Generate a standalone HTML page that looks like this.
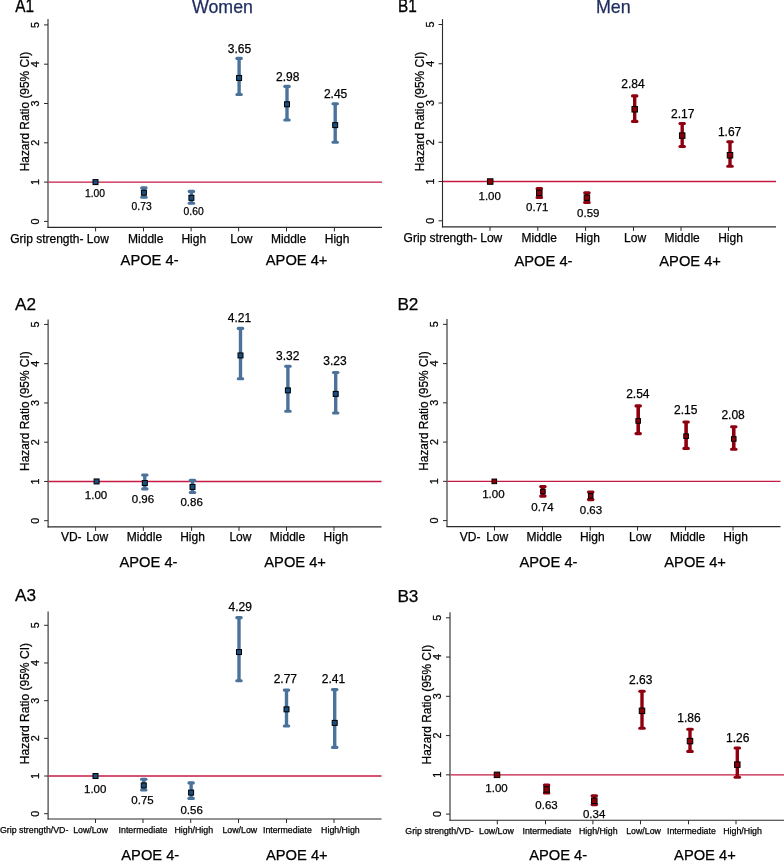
<!DOCTYPE html>
<html><head><meta charset="utf-8"><title>Hazard ratios</title>
<style>
html,body{margin:0;padding:0;background:#fff;}
body{width:784px;height:861px;overflow:hidden;}
svg{display:block;font-family:"Liberation Sans", sans-serif;will-change:transform;}
text{stroke-width:0.25px;}
</style></head>
<body>
<svg width="784" height="861" viewBox="0 0 784 861">
<rect width="784" height="861" fill="#fff"/>
<text transform="translate(15.3,12.3) scale(1,1.15)" font-size="15.4" text-anchor="start" fill="#000" stroke="#000">A1</text>
<line x1="48" y1="19" x2="48" y2="227.9" stroke="#2a2a2a" stroke-width="1.1"/>
<line x1="44" y1="221.4" x2="48" y2="221.4" stroke="#2a2a2a" stroke-width="1"/>
<text transform="translate(39.2,221.4) rotate(-90)" font-size="10.8" text-anchor="middle" fill="#000" stroke="#000">0</text>
<line x1="44" y1="182.1" x2="48" y2="182.1" stroke="#2a2a2a" stroke-width="1"/>
<text transform="translate(39.2,182.1) rotate(-90)" font-size="10.8" text-anchor="middle" fill="#000" stroke="#000">1</text>
<line x1="44" y1="142.8" x2="48" y2="142.8" stroke="#2a2a2a" stroke-width="1"/>
<text transform="translate(39.2,142.8) rotate(-90)" font-size="10.8" text-anchor="middle" fill="#000" stroke="#000">2</text>
<line x1="44" y1="103.5" x2="48" y2="103.5" stroke="#2a2a2a" stroke-width="1"/>
<text transform="translate(39.2,103.5) rotate(-90)" font-size="10.8" text-anchor="middle" fill="#000" stroke="#000">3</text>
<line x1="44" y1="64.2" x2="48" y2="64.2" stroke="#2a2a2a" stroke-width="1"/>
<text transform="translate(39.2,64.2) rotate(-90)" font-size="10.8" text-anchor="middle" fill="#000" stroke="#000">4</text>
<line x1="44" y1="24.9" x2="48" y2="24.9" stroke="#2a2a2a" stroke-width="1"/>
<text transform="translate(39.2,24.9) rotate(-90)" font-size="10.8" text-anchor="middle" fill="#000" stroke="#000">5</text>
<text transform="translate(29,111.5) rotate(-90)" font-size="11.9" text-anchor="middle" fill="#000" stroke="#000">Hazard Ratio (95% CI)</text>
<line x1="47.5" y1="227.4" x2="382" y2="227.4" stroke="#2a2a2a" stroke-width="1.1"/>
<line x1="95.6" y1="227.4" x2="95.6" y2="231.4" stroke="#2a2a2a" stroke-width="1"/>
<line x1="143.5" y1="227.4" x2="143.5" y2="231.4" stroke="#2a2a2a" stroke-width="1"/>
<line x1="191.1" y1="227.4" x2="191.1" y2="231.4" stroke="#2a2a2a" stroke-width="1"/>
<line x1="238.6" y1="227.4" x2="238.6" y2="231.4" stroke="#2a2a2a" stroke-width="1"/>
<line x1="286.5" y1="227.4" x2="286.5" y2="231.4" stroke="#2a2a2a" stroke-width="1"/>
<line x1="334.4" y1="227.4" x2="334.4" y2="231.4" stroke="#2a2a2a" stroke-width="1"/>
<text x="108.9" y="242.6" font-size="12" text-anchor="end" fill="#000" stroke="#000">Grip strength- Low</text>
<text x="145.8" y="242.6" font-size="12" text-anchor="middle" fill="#000" stroke="#000">Middle</text>
<text x="193.8" y="242.6" font-size="12" text-anchor="middle" fill="#000" stroke="#000">High</text>
<text x="241.3" y="242.6" font-size="12" text-anchor="middle" fill="#000" stroke="#000">Low</text>
<text x="288.6" y="242.6" font-size="12" text-anchor="middle" fill="#000" stroke="#000">Middle</text>
<text x="337.1" y="242.6" font-size="12" text-anchor="middle" fill="#000" stroke="#000">High</text>
<text x="120.6" y="265.4" font-size="14.7" text-anchor="start" fill="#000" stroke="#000">APOE 4-</text>
<text x="265.8" y="265.4" font-size="14.7" text-anchor="start" fill="#000" stroke="#000">APOE 4+</text>
<line x1="48.5" y1="182.1" x2="382" y2="182.1" stroke="#c51a44" stroke-width="1.4"/>
<rect x="93" y="179.6" width="5" height="5" fill="#1b4d7e" stroke="#000" stroke-width="1"/>
<text x="95" y="197.41" font-size="10.3" text-anchor="middle" fill="#000" stroke="#000">1.00</text>
<line x1="143.9" y1="187.9" x2="143.9" y2="197.2" stroke="#4a729b" stroke-width="3.4"/>
<line x1="141.7" y1="187.9" x2="146.1" y2="187.9" stroke="#4a729b" stroke-width="3.1" stroke-linecap="round"/>
<line x1="141.7" y1="197.2" x2="146.1" y2="197.2" stroke="#4a729b" stroke-width="3.1" stroke-linecap="round"/>
<rect x="141.4" y="190.21" width="5" height="5" fill="#1b4d7e" stroke="#000" stroke-width="1"/>
<text x="141.6" y="209.81" font-size="10.3" text-anchor="middle" fill="#000" stroke="#000">0.73</text>
<line x1="191.4" y1="191.4" x2="191.4" y2="203.2" stroke="#4a729b" stroke-width="3.4"/>
<line x1="189.2" y1="191.4" x2="193.6" y2="191.4" stroke="#4a729b" stroke-width="3.1" stroke-linecap="round"/>
<line x1="189.2" y1="203.2" x2="193.6" y2="203.2" stroke="#4a729b" stroke-width="3.1" stroke-linecap="round"/>
<rect x="188.9" y="195.32" width="5" height="5" fill="#1b4d7e" stroke="#000" stroke-width="1"/>
<text x="193.6" y="214.81" font-size="10.3" text-anchor="middle" fill="#000" stroke="#000">0.60</text>
<line x1="239.1" y1="58.4" x2="239.1" y2="94.5" stroke="#4a729b" stroke-width="3.4"/>
<line x1="236.9" y1="58.4" x2="241.3" y2="58.4" stroke="#4a729b" stroke-width="3.1" stroke-linecap="round"/>
<line x1="236.9" y1="94.5" x2="241.3" y2="94.5" stroke="#4a729b" stroke-width="3.1" stroke-linecap="round"/>
<rect x="236.6" y="75.46" width="5" height="5" fill="#1b4d7e" stroke="#000" stroke-width="1"/>
<text x="239.5" y="52.6" font-size="12" text-anchor="middle" fill="#000" stroke="#000">3.65</text>
<line x1="287" y1="86.4" x2="287" y2="120" stroke="#4a729b" stroke-width="3.4"/>
<line x1="284.8" y1="86.4" x2="289.2" y2="86.4" stroke="#4a729b" stroke-width="3.1" stroke-linecap="round"/>
<line x1="284.8" y1="120" x2="289.2" y2="120" stroke="#4a729b" stroke-width="3.1" stroke-linecap="round"/>
<rect x="284.5" y="101.79" width="5" height="5" fill="#1b4d7e" stroke="#000" stroke-width="1"/>
<text x="287.7" y="80.5" font-size="12" text-anchor="middle" fill="#000" stroke="#000">2.98</text>
<line x1="335.2" y1="103.75" x2="335.2" y2="142.3" stroke="#4a729b" stroke-width="3.4"/>
<line x1="333" y1="103.75" x2="337.4" y2="103.75" stroke="#4a729b" stroke-width="3.1" stroke-linecap="round"/>
<line x1="333" y1="142.3" x2="337.4" y2="142.3" stroke="#4a729b" stroke-width="3.1" stroke-linecap="round"/>
<rect x="332.7" y="122.62" width="5" height="5" fill="#1b4d7e" stroke="#000" stroke-width="1"/>
<text x="335.6" y="97.9" font-size="12" text-anchor="middle" fill="#000" stroke="#000">2.45</text>
<text transform="translate(397.9,12.3) scale(1,1.15)" font-size="15.4" text-anchor="start" fill="#000" stroke="#000">B1</text>
<line x1="442.5" y1="19.1" x2="442.5" y2="227.4" stroke="#2a2a2a" stroke-width="1.1"/>
<line x1="438.5" y1="220.8" x2="442.5" y2="220.8" stroke="#2a2a2a" stroke-width="1"/>
<text transform="translate(433.6,220.8) rotate(-90)" font-size="10.8" text-anchor="middle" fill="#000" stroke="#000">0</text>
<line x1="438.5" y1="181.54" x2="442.5" y2="181.54" stroke="#2a2a2a" stroke-width="1"/>
<text transform="translate(433.6,181.54) rotate(-90)" font-size="10.8" text-anchor="middle" fill="#000" stroke="#000">1</text>
<line x1="438.5" y1="142.28" x2="442.5" y2="142.28" stroke="#2a2a2a" stroke-width="1"/>
<text transform="translate(433.6,142.28) rotate(-90)" font-size="10.8" text-anchor="middle" fill="#000" stroke="#000">2</text>
<line x1="438.5" y1="103.02" x2="442.5" y2="103.02" stroke="#2a2a2a" stroke-width="1"/>
<text transform="translate(433.6,103.02) rotate(-90)" font-size="10.8" text-anchor="middle" fill="#000" stroke="#000">3</text>
<line x1="438.5" y1="63.76" x2="442.5" y2="63.76" stroke="#2a2a2a" stroke-width="1"/>
<text transform="translate(433.6,63.76) rotate(-90)" font-size="10.8" text-anchor="middle" fill="#000" stroke="#000">4</text>
<line x1="438.5" y1="24.5" x2="442.5" y2="24.5" stroke="#2a2a2a" stroke-width="1"/>
<text transform="translate(433.6,24.5) rotate(-90)" font-size="10.8" text-anchor="middle" fill="#000" stroke="#000">5</text>
<text transform="translate(424,111.5) rotate(-90)" font-size="11.9" text-anchor="middle" fill="#000" stroke="#000">Hazard Ratio (95% CI)</text>
<line x1="442" y1="226.9" x2="776" y2="226.9" stroke="#2a2a2a" stroke-width="1.1"/>
<line x1="490" y1="226.9" x2="490" y2="230.9" stroke="#2a2a2a" stroke-width="1"/>
<line x1="537.8" y1="226.9" x2="537.8" y2="230.9" stroke="#2a2a2a" stroke-width="1"/>
<line x1="585.6" y1="226.9" x2="585.6" y2="230.9" stroke="#2a2a2a" stroke-width="1"/>
<line x1="633.5" y1="226.9" x2="633.5" y2="230.9" stroke="#2a2a2a" stroke-width="1"/>
<line x1="681" y1="226.9" x2="681" y2="230.9" stroke="#2a2a2a" stroke-width="1"/>
<line x1="728.5" y1="226.9" x2="728.5" y2="230.9" stroke="#2a2a2a" stroke-width="1"/>
<text x="502.3" y="241.9" font-size="12" text-anchor="end" fill="#000" stroke="#000">Grip strength- Low</text>
<text x="539.3" y="241.9" font-size="12" text-anchor="middle" fill="#000" stroke="#000">Middle</text>
<text x="587.5" y="241.9" font-size="12" text-anchor="middle" fill="#000" stroke="#000">High</text>
<text x="635.1" y="241.9" font-size="12" text-anchor="middle" fill="#000" stroke="#000">Low</text>
<text x="682.1" y="241.9" font-size="12" text-anchor="middle" fill="#000" stroke="#000">Middle</text>
<text x="730.5" y="241.9" font-size="12" text-anchor="middle" fill="#000" stroke="#000">High</text>
<text x="514.5" y="265.5" font-size="14.7" text-anchor="start" fill="#000" stroke="#000">APOE 4-</text>
<text x="659.3" y="265.5" font-size="14.7" text-anchor="start" fill="#000" stroke="#000">APOE 4+</text>
<line x1="443" y1="181.54" x2="776" y2="181.54" stroke="#c51a44" stroke-width="1.4"/>
<rect x="487.45" y="178.79" width="5.5" height="5.5" fill="#8a0008" stroke="#000" stroke-width="1"/>
<text x="489.7" y="199.85" font-size="11.5" text-anchor="middle" fill="#000" stroke="#000">1.00</text>
<line x1="539.3" y1="188.6" x2="539.3" y2="197.4" stroke="#8e0010" stroke-width="3.4"/>
<line x1="537.1" y1="188.6" x2="541.5" y2="188.6" stroke="#8e0010" stroke-width="3.1" stroke-linecap="round"/>
<line x1="537.1" y1="197.4" x2="541.5" y2="197.4" stroke="#8e0010" stroke-width="3.1" stroke-linecap="round"/>
<rect x="536.55" y="190.18" width="5.5" height="5.5" fill="#8a0008" stroke="#000" stroke-width="1"/>
<text x="537.3" y="210.75" font-size="11.5" text-anchor="middle" fill="#000" stroke="#000">0.71</text>
<line x1="586.9" y1="192.75" x2="586.9" y2="202.4" stroke="#8e0010" stroke-width="3.4"/>
<line x1="584.7" y1="192.75" x2="589.1" y2="192.75" stroke="#8e0010" stroke-width="3.1" stroke-linecap="round"/>
<line x1="584.7" y1="202.4" x2="589.1" y2="202.4" stroke="#8e0010" stroke-width="3.1" stroke-linecap="round"/>
<rect x="584.15" y="194.89" width="5.5" height="5.5" fill="#8a0008" stroke="#000" stroke-width="1"/>
<text x="588.25" y="216.65" font-size="11.5" text-anchor="middle" fill="#000" stroke="#000">0.59</text>
<line x1="634.7" y1="95.9" x2="634.7" y2="121.4" stroke="#8e0010" stroke-width="3.4"/>
<line x1="632.5" y1="95.9" x2="636.9" y2="95.9" stroke="#8e0010" stroke-width="3.1" stroke-linecap="round"/>
<line x1="632.5" y1="121.4" x2="636.9" y2="121.4" stroke="#8e0010" stroke-width="3.1" stroke-linecap="round"/>
<rect x="631.95" y="106.55" width="5.5" height="5.5" fill="#8a0008" stroke="#000" stroke-width="1"/>
<text x="633" y="88.3" font-size="12" text-anchor="middle" fill="#000" stroke="#000">2.84</text>
<line x1="682.2" y1="123.5" x2="682.2" y2="146.5" stroke="#8e0010" stroke-width="3.4"/>
<line x1="680" y1="123.5" x2="684.4" y2="123.5" stroke="#8e0010" stroke-width="3.1" stroke-linecap="round"/>
<line x1="680" y1="146.5" x2="684.4" y2="146.5" stroke="#8e0010" stroke-width="3.1" stroke-linecap="round"/>
<rect x="679.45" y="132.86" width="5.5" height="5.5" fill="#8a0008" stroke="#000" stroke-width="1"/>
<text x="682.7" y="117.9" font-size="12" text-anchor="middle" fill="#000" stroke="#000">2.17</text>
<line x1="730" y1="141.8" x2="730" y2="166.3" stroke="#8e0010" stroke-width="3.4"/>
<line x1="727.8" y1="141.8" x2="732.2" y2="141.8" stroke="#8e0010" stroke-width="3.1" stroke-linecap="round"/>
<line x1="727.8" y1="166.3" x2="732.2" y2="166.3" stroke="#8e0010" stroke-width="3.1" stroke-linecap="round"/>
<rect x="727.25" y="152.49" width="5.5" height="5.5" fill="#8a0008" stroke="#000" stroke-width="1"/>
<text x="729.6" y="135.6" font-size="12" text-anchor="middle" fill="#000" stroke="#000">1.67</text>
<text transform="translate(15,310.1) scale(1,1)" font-size="17.2" text-anchor="start" fill="#000" stroke="#000">A2</text>
<line x1="48.1" y1="319.5" x2="48.1" y2="527.4" stroke="#2a2a2a" stroke-width="1.1"/>
<line x1="44.1" y1="520.7" x2="48.1" y2="520.7" stroke="#2a2a2a" stroke-width="1"/>
<text transform="translate(39.4,520.7) rotate(-90)" font-size="10.8" text-anchor="middle" fill="#000" stroke="#000">0</text>
<line x1="44.1" y1="481.45" x2="48.1" y2="481.45" stroke="#2a2a2a" stroke-width="1"/>
<text transform="translate(39.4,481.45) rotate(-90)" font-size="10.8" text-anchor="middle" fill="#000" stroke="#000">1</text>
<line x1="44.1" y1="442.2" x2="48.1" y2="442.2" stroke="#2a2a2a" stroke-width="1"/>
<text transform="translate(39.4,442.2) rotate(-90)" font-size="10.8" text-anchor="middle" fill="#000" stroke="#000">2</text>
<line x1="44.1" y1="402.95" x2="48.1" y2="402.95" stroke="#2a2a2a" stroke-width="1"/>
<text transform="translate(39.4,402.95) rotate(-90)" font-size="10.8" text-anchor="middle" fill="#000" stroke="#000">3</text>
<line x1="44.1" y1="363.7" x2="48.1" y2="363.7" stroke="#2a2a2a" stroke-width="1"/>
<text transform="translate(39.4,363.7) rotate(-90)" font-size="10.8" text-anchor="middle" fill="#000" stroke="#000">4</text>
<line x1="44.1" y1="324.45" x2="48.1" y2="324.45" stroke="#2a2a2a" stroke-width="1"/>
<text transform="translate(39.4,324.45) rotate(-90)" font-size="10.8" text-anchor="middle" fill="#000" stroke="#000">5</text>
<text transform="translate(29.2,411.1) rotate(-90)" font-size="11.9" text-anchor="middle" fill="#000" stroke="#000">Hazard Ratio (95% CI)</text>
<line x1="47.6" y1="526.9" x2="381.5" y2="526.9" stroke="#2a2a2a" stroke-width="1.1"/>
<line x1="95.6" y1="526.9" x2="95.6" y2="530.9" stroke="#2a2a2a" stroke-width="1"/>
<line x1="143.4" y1="526.9" x2="143.4" y2="530.9" stroke="#2a2a2a" stroke-width="1"/>
<line x1="191.6" y1="526.9" x2="191.6" y2="530.9" stroke="#2a2a2a" stroke-width="1"/>
<line x1="239" y1="526.9" x2="239" y2="530.9" stroke="#2a2a2a" stroke-width="1"/>
<line x1="286.5" y1="526.9" x2="286.5" y2="530.9" stroke="#2a2a2a" stroke-width="1"/>
<line x1="334" y1="526.9" x2="334" y2="530.9" stroke="#2a2a2a" stroke-width="1"/>
<text x="81.6" y="541" font-size="12" text-anchor="end" fill="#000" stroke="#000">VD-</text>
<text x="97.2" y="541" font-size="12" text-anchor="middle" fill="#000" stroke="#000">Low</text>
<text x="144.4" y="541" font-size="12" text-anchor="middle" fill="#000" stroke="#000">Middle</text>
<text x="192.5" y="541" font-size="12" text-anchor="middle" fill="#000" stroke="#000">High</text>
<text x="240.4" y="541" font-size="12" text-anchor="middle" fill="#000" stroke="#000">Low</text>
<text x="287.5" y="541" font-size="12" text-anchor="middle" fill="#000" stroke="#000">Middle</text>
<text x="335.9" y="541" font-size="12" text-anchor="middle" fill="#000" stroke="#000">High</text>
<text x="119.5" y="566.6" font-size="14.7" text-anchor="start" fill="#000" stroke="#000">APOE 4-</text>
<text x="264.3" y="566.6" font-size="14.7" text-anchor="start" fill="#000" stroke="#000">APOE 4+</text>
<line x1="48.6" y1="481.45" x2="381.5" y2="481.45" stroke="#c51a44" stroke-width="1.4"/>
<rect x="94.1" y="478.95" width="5" height="5" fill="#1b4d7e" stroke="#000" stroke-width="1"/>
<text x="96.05" y="499.15" font-size="11.5" text-anchor="middle" fill="#000" stroke="#000">1.00</text>
<line x1="144.8" y1="475" x2="144.8" y2="488.9" stroke="#4a729b" stroke-width="3.4"/>
<line x1="142.6" y1="475" x2="147" y2="475" stroke="#4a729b" stroke-width="3.1" stroke-linecap="round"/>
<line x1="142.6" y1="488.9" x2="147" y2="488.9" stroke="#4a729b" stroke-width="3.1" stroke-linecap="round"/>
<rect x="142.3" y="480.52" width="5" height="5" fill="#1b4d7e" stroke="#000" stroke-width="1"/>
<text x="142.95" y="503.05" font-size="11.5" text-anchor="middle" fill="#000" stroke="#000">0.96</text>
<line x1="192.5" y1="480.4" x2="192.5" y2="492.5" stroke="#4a729b" stroke-width="3.4"/>
<line x1="190.3" y1="480.4" x2="194.7" y2="480.4" stroke="#4a729b" stroke-width="3.1" stroke-linecap="round"/>
<line x1="190.3" y1="492.5" x2="194.7" y2="492.5" stroke="#4a729b" stroke-width="3.1" stroke-linecap="round"/>
<rect x="190" y="484.45" width="5" height="5" fill="#1b4d7e" stroke="#000" stroke-width="1"/>
<text x="191.65" y="506.35" font-size="11.5" text-anchor="middle" fill="#000" stroke="#000">0.86</text>
<line x1="240.5" y1="328.4" x2="240.5" y2="378.75" stroke="#4a729b" stroke-width="3.4"/>
<line x1="238.3" y1="328.4" x2="242.7" y2="328.4" stroke="#4a729b" stroke-width="3.1" stroke-linecap="round"/>
<line x1="238.3" y1="378.75" x2="242.7" y2="378.75" stroke="#4a729b" stroke-width="3.1" stroke-linecap="round"/>
<rect x="238" y="352.96" width="5" height="5" fill="#1b4d7e" stroke="#000" stroke-width="1"/>
<text x="239.5" y="321.5" font-size="12" text-anchor="middle" fill="#000" stroke="#000">4.21</text>
<line x1="287.9" y1="366.25" x2="287.9" y2="411.25" stroke="#4a729b" stroke-width="3.4"/>
<line x1="285.7" y1="366.25" x2="290.1" y2="366.25" stroke="#4a729b" stroke-width="3.1" stroke-linecap="round"/>
<line x1="285.7" y1="411.25" x2="290.1" y2="411.25" stroke="#4a729b" stroke-width="3.1" stroke-linecap="round"/>
<rect x="285.4" y="387.89" width="5" height="5" fill="#1b4d7e" stroke="#000" stroke-width="1"/>
<text x="287.7" y="359.5" font-size="12" text-anchor="middle" fill="#000" stroke="#000">3.32</text>
<line x1="335.7" y1="372.5" x2="335.7" y2="413" stroke="#4a729b" stroke-width="3.4"/>
<line x1="333.5" y1="372.5" x2="337.9" y2="372.5" stroke="#4a729b" stroke-width="3.1" stroke-linecap="round"/>
<line x1="333.5" y1="413" x2="337.9" y2="413" stroke="#4a729b" stroke-width="3.1" stroke-linecap="round"/>
<rect x="333.2" y="391.42" width="5" height="5" fill="#1b4d7e" stroke="#000" stroke-width="1"/>
<text x="335" y="365.3" font-size="12" text-anchor="middle" fill="#000" stroke="#000">3.23</text>
<text transform="translate(397.4,310.4) scale(1,1)" font-size="17.2" text-anchor="start" fill="#000" stroke="#000">B2</text>
<line x1="447" y1="319" x2="447" y2="527.1" stroke="#2a2a2a" stroke-width="1.1"/>
<line x1="443" y1="520.6" x2="447" y2="520.6" stroke="#2a2a2a" stroke-width="1"/>
<text transform="translate(438,520.6) rotate(-90)" font-size="10.8" text-anchor="middle" fill="#000" stroke="#000">0</text>
<line x1="443" y1="481.35" x2="447" y2="481.35" stroke="#2a2a2a" stroke-width="1"/>
<text transform="translate(438,481.35) rotate(-90)" font-size="10.8" text-anchor="middle" fill="#000" stroke="#000">1</text>
<line x1="443" y1="442.1" x2="447" y2="442.1" stroke="#2a2a2a" stroke-width="1"/>
<text transform="translate(438,442.1) rotate(-90)" font-size="10.8" text-anchor="middle" fill="#000" stroke="#000">2</text>
<line x1="443" y1="402.85" x2="447" y2="402.85" stroke="#2a2a2a" stroke-width="1"/>
<text transform="translate(438,402.85) rotate(-90)" font-size="10.8" text-anchor="middle" fill="#000" stroke="#000">3</text>
<line x1="443" y1="363.6" x2="447" y2="363.6" stroke="#2a2a2a" stroke-width="1"/>
<text transform="translate(438,363.6) rotate(-90)" font-size="10.8" text-anchor="middle" fill="#000" stroke="#000">4</text>
<line x1="443" y1="324.35" x2="447" y2="324.35" stroke="#2a2a2a" stroke-width="1"/>
<text transform="translate(438,324.35) rotate(-90)" font-size="10.8" text-anchor="middle" fill="#000" stroke="#000">5</text>
<text transform="translate(428.2,411) rotate(-90)" font-size="11.9" text-anchor="middle" fill="#000" stroke="#000">Hazard Ratio (95% CI)</text>
<line x1="446.5" y1="526.6" x2="780.5" y2="526.6" stroke="#2a2a2a" stroke-width="1.1"/>
<line x1="494.5" y1="526.6" x2="494.5" y2="530.6" stroke="#2a2a2a" stroke-width="1"/>
<line x1="542.5" y1="526.6" x2="542.5" y2="530.6" stroke="#2a2a2a" stroke-width="1"/>
<line x1="590.3" y1="526.6" x2="590.3" y2="530.6" stroke="#2a2a2a" stroke-width="1"/>
<line x1="637.5" y1="526.6" x2="637.5" y2="530.6" stroke="#2a2a2a" stroke-width="1"/>
<line x1="685.5" y1="526.6" x2="685.5" y2="530.6" stroke="#2a2a2a" stroke-width="1"/>
<line x1="733" y1="526.6" x2="733" y2="530.6" stroke="#2a2a2a" stroke-width="1"/>
<text x="480.4" y="541" font-size="12" text-anchor="end" fill="#000" stroke="#000">VD-</text>
<text x="497.2" y="541" font-size="12" text-anchor="middle" fill="#000" stroke="#000">Low</text>
<text x="544.3" y="541" font-size="12" text-anchor="middle" fill="#000" stroke="#000">Middle</text>
<text x="592.3" y="541" font-size="12" text-anchor="middle" fill="#000" stroke="#000">High</text>
<text x="640.1" y="541" font-size="12" text-anchor="middle" fill="#000" stroke="#000">Low</text>
<text x="687.6" y="541" font-size="12" text-anchor="middle" fill="#000" stroke="#000">Middle</text>
<text x="735.6" y="541" font-size="12" text-anchor="middle" fill="#000" stroke="#000">High</text>
<text x="519.5" y="566.6" font-size="14.7" text-anchor="start" fill="#000" stroke="#000">APOE 4-</text>
<text x="664.3" y="566.6" font-size="14.7" text-anchor="start" fill="#000" stroke="#000">APOE 4+</text>
<line x1="447.5" y1="481.35" x2="780.5" y2="481.35" stroke="#c51a44" stroke-width="1.4"/>
<rect x="492" y="479.05" width="4.6" height="4.6" fill="#8a0008" stroke="#000" stroke-width="1"/>
<text x="493.4" y="498.45" font-size="11.5" text-anchor="middle" fill="#000" stroke="#000">1.00</text>
<line x1="542.9" y1="486.6" x2="542.9" y2="496.1" stroke="#8e0010" stroke-width="3.6"/>
<line x1="540.7" y1="486.6" x2="545.1" y2="486.6" stroke="#8e0010" stroke-width="3.1" stroke-linecap="round"/>
<line x1="540.7" y1="496.1" x2="545.1" y2="496.1" stroke="#8e0010" stroke-width="3.1" stroke-linecap="round"/>
<rect x="540.6" y="489.25" width="4.6" height="4.6" fill="#8a0008" stroke="#000" stroke-width="1"/>
<text x="542.5" y="510.75" font-size="11.5" text-anchor="middle" fill="#000" stroke="#000">0.74</text>
<line x1="590.7" y1="492" x2="590.7" y2="499.6" stroke="#8e0010" stroke-width="3.6"/>
<line x1="588.5" y1="492" x2="592.9" y2="492" stroke="#8e0010" stroke-width="3.1" stroke-linecap="round"/>
<line x1="588.5" y1="499.6" x2="592.9" y2="499.6" stroke="#8e0010" stroke-width="3.1" stroke-linecap="round"/>
<rect x="588.4" y="493.57" width="4.6" height="4.6" fill="#8a0008" stroke="#000" stroke-width="1"/>
<text x="590.95" y="513.85" font-size="11.5" text-anchor="middle" fill="#000" stroke="#000">0.63</text>
<line x1="638.2" y1="405.9" x2="638.2" y2="433.6" stroke="#8e0010" stroke-width="3.6"/>
<line x1="636" y1="405.9" x2="640.4" y2="405.9" stroke="#8e0010" stroke-width="3.1" stroke-linecap="round"/>
<line x1="636" y1="433.6" x2="640.4" y2="433.6" stroke="#8e0010" stroke-width="3.1" stroke-linecap="round"/>
<rect x="635.9" y="418.61" width="4.6" height="4.6" fill="#8a0008" stroke="#000" stroke-width="1"/>
<text x="637.85" y="398.1" font-size="12" text-anchor="middle" fill="#000" stroke="#000">2.54</text>
<line x1="686.1" y1="422" x2="686.1" y2="448.4" stroke="#8e0010" stroke-width="3.6"/>
<line x1="683.9" y1="422" x2="688.3" y2="422" stroke="#8e0010" stroke-width="3.1" stroke-linecap="round"/>
<line x1="683.9" y1="448.4" x2="688.3" y2="448.4" stroke="#8e0010" stroke-width="3.1" stroke-linecap="round"/>
<rect x="683.8" y="433.91" width="4.6" height="4.6" fill="#8a0008" stroke="#000" stroke-width="1"/>
<text x="685.65" y="414.2" font-size="12" text-anchor="middle" fill="#000" stroke="#000">2.15</text>
<line x1="733.75" y1="426.8" x2="733.75" y2="449.3" stroke="#8e0010" stroke-width="3.6"/>
<line x1="731.55" y1="426.8" x2="735.95" y2="426.8" stroke="#8e0010" stroke-width="3.1" stroke-linecap="round"/>
<line x1="731.55" y1="449.3" x2="735.95" y2="449.3" stroke="#8e0010" stroke-width="3.1" stroke-linecap="round"/>
<rect x="731.45" y="436.66" width="4.6" height="4.6" fill="#8a0008" stroke="#000" stroke-width="1"/>
<text x="733.1" y="419.2" font-size="12" text-anchor="middle" fill="#000" stroke="#000">2.08</text>
<text transform="translate(15,600.8) scale(1,1)" font-size="17.2" text-anchor="start" fill="#000" stroke="#000">A3</text>
<line x1="48.1" y1="611.5" x2="48.1" y2="819.5" stroke="#2a2a2a" stroke-width="1.1"/>
<line x1="44.1" y1="813.7" x2="48.1" y2="813.7" stroke="#2a2a2a" stroke-width="1"/>
<text transform="translate(39.4,813.7) rotate(-90)" font-size="10.8" text-anchor="middle" fill="#000" stroke="#000">0</text>
<line x1="44.1" y1="776.02" x2="48.1" y2="776.02" stroke="#2a2a2a" stroke-width="1"/>
<text transform="translate(39.4,776.02) rotate(-90)" font-size="10.8" text-anchor="middle" fill="#000" stroke="#000">1</text>
<line x1="44.1" y1="738.34" x2="48.1" y2="738.34" stroke="#2a2a2a" stroke-width="1"/>
<text transform="translate(39.4,738.34) rotate(-90)" font-size="10.8" text-anchor="middle" fill="#000" stroke="#000">2</text>
<line x1="44.1" y1="700.66" x2="48.1" y2="700.66" stroke="#2a2a2a" stroke-width="1"/>
<text transform="translate(39.4,700.66) rotate(-90)" font-size="10.8" text-anchor="middle" fill="#000" stroke="#000">3</text>
<line x1="44.1" y1="662.98" x2="48.1" y2="662.98" stroke="#2a2a2a" stroke-width="1"/>
<text transform="translate(39.4,662.98) rotate(-90)" font-size="10.8" text-anchor="middle" fill="#000" stroke="#000">4</text>
<line x1="44.1" y1="625.3" x2="48.1" y2="625.3" stroke="#2a2a2a" stroke-width="1"/>
<text transform="translate(39.4,625.3) rotate(-90)" font-size="10.8" text-anchor="middle" fill="#000" stroke="#000">5</text>
<text transform="translate(29.4,703.6) rotate(-90)" font-size="12.05" text-anchor="middle" fill="#000" stroke="#000">Hazard Ratio (95% CI)</text>
<line x1="47.6" y1="819" x2="381.5" y2="819" stroke="#2a2a2a" stroke-width="1.1"/>
<line x1="95.5" y1="819" x2="95.5" y2="823" stroke="#2a2a2a" stroke-width="1"/>
<line x1="143" y1="819" x2="143" y2="823" stroke="#2a2a2a" stroke-width="1"/>
<line x1="190.7" y1="819" x2="190.7" y2="823" stroke="#2a2a2a" stroke-width="1"/>
<line x1="238.5" y1="819" x2="238.5" y2="823" stroke="#2a2a2a" stroke-width="1"/>
<line x1="286.5" y1="819" x2="286.5" y2="823" stroke="#2a2a2a" stroke-width="1"/>
<line x1="334" y1="819" x2="334" y2="823" stroke="#2a2a2a" stroke-width="1"/>
<text x="68.4" y="833" font-size="8.8" text-anchor="end" fill="#000" stroke="#000">Grip strength/VD-</text>
<text x="90.5" y="833" font-size="8.8" text-anchor="middle" fill="#000" stroke="#000">Low/Low</text>
<text x="143" y="833" font-size="8.8" text-anchor="middle" fill="#000" stroke="#000">Intermediate</text>
<text x="193.8" y="833" font-size="8.8" text-anchor="middle" fill="#000" stroke="#000">High/High</text>
<text x="239.8" y="833" font-size="8.8" text-anchor="middle" fill="#000" stroke="#000">Low/Low</text>
<text x="287.4" y="833" font-size="8.8" text-anchor="middle" fill="#000" stroke="#000">Intermediate</text>
<text x="340.4" y="833" font-size="8.8" text-anchor="middle" fill="#000" stroke="#000">High/High</text>
<text x="121.3" y="859.6" font-size="14.7" text-anchor="start" fill="#000" stroke="#000">APOE 4-</text>
<text x="266" y="859.6" font-size="14.7" text-anchor="start" fill="#000" stroke="#000">APOE 4+</text>
<line x1="48.6" y1="776.02" x2="381.5" y2="776.02" stroke="#c51a44" stroke-width="1.4"/>
<rect x="93" y="773.52" width="5" height="5" fill="#1b4d7e" stroke="#000" stroke-width="1"/>
<text x="95.2" y="793.45" font-size="11.5" text-anchor="middle" fill="#000" stroke="#000">1.00</text>
<line x1="143.75" y1="779.3" x2="143.75" y2="790" stroke="#4a729b" stroke-width="3.4"/>
<line x1="141.55" y1="779.3" x2="145.95" y2="779.3" stroke="#4a729b" stroke-width="3.1" stroke-linecap="round"/>
<line x1="141.55" y1="790" x2="145.95" y2="790" stroke="#4a729b" stroke-width="3.1" stroke-linecap="round"/>
<rect x="141.25" y="782.94" width="5" height="5" fill="#1b4d7e" stroke="#000" stroke-width="1"/>
<text x="142.5" y="804.15" font-size="11.5" text-anchor="middle" fill="#000" stroke="#000">0.75</text>
<line x1="191.1" y1="782.9" x2="191.1" y2="798.4" stroke="#4a729b" stroke-width="3.4"/>
<line x1="188.9" y1="782.9" x2="193.3" y2="782.9" stroke="#4a729b" stroke-width="3.1" stroke-linecap="round"/>
<line x1="188.9" y1="798.4" x2="193.3" y2="798.4" stroke="#4a729b" stroke-width="3.1" stroke-linecap="round"/>
<rect x="188.6" y="790.1" width="5" height="5" fill="#1b4d7e" stroke="#000" stroke-width="1"/>
<text x="191.65" y="813.65" font-size="11.5" text-anchor="middle" fill="#000" stroke="#000">0.56</text>
<line x1="239" y1="617.65" x2="239" y2="680.8" stroke="#4a729b" stroke-width="3.4"/>
<line x1="236.8" y1="617.65" x2="241.2" y2="617.65" stroke="#4a729b" stroke-width="3.1" stroke-linecap="round"/>
<line x1="236.8" y1="680.8" x2="241.2" y2="680.8" stroke="#4a729b" stroke-width="3.1" stroke-linecap="round"/>
<rect x="236.5" y="649.55" width="5" height="5" fill="#1b4d7e" stroke="#000" stroke-width="1"/>
<text x="240.25" y="611.1" font-size="12" text-anchor="middle" fill="#000" stroke="#000">4.29</text>
<line x1="286.5" y1="690.1" x2="286.5" y2="726" stroke="#4a729b" stroke-width="3.4"/>
<line x1="284.3" y1="690.1" x2="288.7" y2="690.1" stroke="#4a729b" stroke-width="3.1" stroke-linecap="round"/>
<line x1="284.3" y1="726" x2="288.7" y2="726" stroke="#4a729b" stroke-width="3.1" stroke-linecap="round"/>
<rect x="284" y="706.83" width="5" height="5" fill="#1b4d7e" stroke="#000" stroke-width="1"/>
<text x="285.35" y="683" font-size="12" text-anchor="middle" fill="#000" stroke="#000">2.77</text>
<line x1="334.7" y1="689.6" x2="334.7" y2="747.4" stroke="#4a729b" stroke-width="3.4"/>
<line x1="332.5" y1="689.6" x2="336.9" y2="689.6" stroke="#4a729b" stroke-width="3.1" stroke-linecap="round"/>
<line x1="332.5" y1="747.4" x2="336.9" y2="747.4" stroke="#4a729b" stroke-width="3.1" stroke-linecap="round"/>
<rect x="332.2" y="720.39" width="5" height="5" fill="#1b4d7e" stroke="#000" stroke-width="1"/>
<text x="333.45" y="683" font-size="12" text-anchor="middle" fill="#000" stroke="#000">2.41</text>
<text transform="translate(397.4,601.5) scale(1,1)" font-size="17.2" text-anchor="start" fill="#000" stroke="#000">B3</text>
<line x1="450" y1="612.3" x2="450" y2="820.8" stroke="#2a2a2a" stroke-width="1.1"/>
<line x1="446" y1="814.1" x2="450" y2="814.1" stroke="#2a2a2a" stroke-width="1"/>
<text transform="translate(441,814.1) rotate(-90)" font-size="10.8" text-anchor="middle" fill="#000" stroke="#000">0</text>
<line x1="446" y1="774.84" x2="450" y2="774.84" stroke="#2a2a2a" stroke-width="1"/>
<text transform="translate(441,774.84) rotate(-90)" font-size="10.8" text-anchor="middle" fill="#000" stroke="#000">1</text>
<line x1="446" y1="735.58" x2="450" y2="735.58" stroke="#2a2a2a" stroke-width="1"/>
<text transform="translate(441,735.58) rotate(-90)" font-size="10.8" text-anchor="middle" fill="#000" stroke="#000">2</text>
<line x1="446" y1="696.32" x2="450" y2="696.32" stroke="#2a2a2a" stroke-width="1"/>
<text transform="translate(441,696.32) rotate(-90)" font-size="10.8" text-anchor="middle" fill="#000" stroke="#000">3</text>
<line x1="446" y1="657.06" x2="450" y2="657.06" stroke="#2a2a2a" stroke-width="1"/>
<text transform="translate(441,657.06) rotate(-90)" font-size="10.8" text-anchor="middle" fill="#000" stroke="#000">4</text>
<line x1="446" y1="617.8" x2="450" y2="617.8" stroke="#2a2a2a" stroke-width="1"/>
<text transform="translate(441,617.8) rotate(-90)" font-size="10.8" text-anchor="middle" fill="#000" stroke="#000">5</text>
<text transform="translate(431.3,704.6) rotate(-90)" font-size="11.9" text-anchor="middle" fill="#000" stroke="#000">Hazard Ratio (95% CI)</text>
<line x1="449.5" y1="820.3" x2="784" y2="820.3" stroke="#2a2a2a" stroke-width="1.1"/>
<line x1="497.3" y1="820.3" x2="497.3" y2="824.3" stroke="#2a2a2a" stroke-width="1"/>
<line x1="545.5" y1="820.3" x2="545.5" y2="824.3" stroke="#2a2a2a" stroke-width="1"/>
<line x1="592.9" y1="820.3" x2="592.9" y2="824.3" stroke="#2a2a2a" stroke-width="1"/>
<line x1="640.5" y1="820.3" x2="640.5" y2="824.3" stroke="#2a2a2a" stroke-width="1"/>
<line x1="688.5" y1="820.3" x2="688.5" y2="824.3" stroke="#2a2a2a" stroke-width="1"/>
<line x1="736" y1="820.3" x2="736" y2="824.3" stroke="#2a2a2a" stroke-width="1"/>
<text x="473.8" y="834.1" font-size="8.8" text-anchor="end" fill="#000" stroke="#000">Grip strength/VD-</text>
<text x="496.4" y="834.1" font-size="8.8" text-anchor="middle" fill="#000" stroke="#000">Low/Low</text>
<text x="546.9" y="834.1" font-size="8.8" text-anchor="middle" fill="#000" stroke="#000">Intermediate</text>
<text x="598.3" y="834.1" font-size="8.8" text-anchor="middle" fill="#000" stroke="#000">High/High</text>
<text x="643.6" y="834.1" font-size="8.8" text-anchor="middle" fill="#000" stroke="#000">Low/Low</text>
<text x="691.4" y="834.1" font-size="8.8" text-anchor="middle" fill="#000" stroke="#000">Intermediate</text>
<text x="742.6" y="834.1" font-size="8.8" text-anchor="middle" fill="#000" stroke="#000">High/High</text>
<text x="529.2" y="860" font-size="14.7" text-anchor="start" fill="#000" stroke="#000">APOE 4-</text>
<text x="674.1" y="860" font-size="14.7" text-anchor="start" fill="#000" stroke="#000">APOE 4+</text>
<line x1="450.5" y1="774.84" x2="784" y2="774.84" stroke="#c51a44" stroke-width="1.4"/>
<rect x="494.25" y="772.09" width="5.5" height="5.5" fill="#8a0008" stroke="#000" stroke-width="1"/>
<text x="496.55" y="791.95" font-size="11.5" text-anchor="middle" fill="#000" stroke="#000">1.00</text>
<line x1="546.6" y1="785" x2="546.6" y2="793" stroke="#8e0010" stroke-width="3.4"/>
<line x1="544.4" y1="785" x2="548.8" y2="785" stroke="#8e0010" stroke-width="3.1" stroke-linecap="round"/>
<line x1="544.4" y1="793" x2="548.8" y2="793" stroke="#8e0010" stroke-width="3.1" stroke-linecap="round"/>
<rect x="543.85" y="786.62" width="5.5" height="5.5" fill="#8a0008" stroke="#000" stroke-width="1"/>
<text x="546.55" y="809.15" font-size="11.5" text-anchor="middle" fill="#000" stroke="#000">0.63</text>
<line x1="594.3" y1="795.7" x2="594.3" y2="804.6" stroke="#8e0010" stroke-width="3.4"/>
<line x1="592.1" y1="795.7" x2="596.5" y2="795.7" stroke="#8e0010" stroke-width="3.1" stroke-linecap="round"/>
<line x1="592.1" y1="804.6" x2="596.5" y2="804.6" stroke="#8e0010" stroke-width="3.1" stroke-linecap="round"/>
<rect x="591.55" y="798" width="5.5" height="5.5" fill="#8a0008" stroke="#000" stroke-width="1"/>
<text x="594.1" y="818.05" font-size="11.5" text-anchor="middle" fill="#000" stroke="#000">0.34</text>
<line x1="642" y1="691.25" x2="642" y2="728.2" stroke="#8e0010" stroke-width="3.4"/>
<line x1="639.8" y1="691.25" x2="644.2" y2="691.25" stroke="#8e0010" stroke-width="3.1" stroke-linecap="round"/>
<line x1="639.8" y1="728.2" x2="644.2" y2="728.2" stroke="#8e0010" stroke-width="3.1" stroke-linecap="round"/>
<rect x="639.25" y="708.1" width="5.5" height="5.5" fill="#8a0008" stroke="#000" stroke-width="1"/>
<text x="640.7" y="684.4" font-size="12" text-anchor="middle" fill="#000" stroke="#000">2.63</text>
<line x1="690" y1="729.3" x2="690" y2="751.4" stroke="#8e0010" stroke-width="3.4"/>
<line x1="687.8" y1="729.3" x2="692.2" y2="729.3" stroke="#8e0010" stroke-width="3.1" stroke-linecap="round"/>
<line x1="687.8" y1="751.4" x2="692.2" y2="751.4" stroke="#8e0010" stroke-width="3.1" stroke-linecap="round"/>
<rect x="687.25" y="738.33" width="5.5" height="5.5" fill="#8a0008" stroke="#000" stroke-width="1"/>
<text x="688.9" y="722.4" font-size="12" text-anchor="middle" fill="#000" stroke="#000">1.86</text>
<line x1="737.3" y1="748" x2="737.3" y2="777.3" stroke="#8e0010" stroke-width="3.4"/>
<line x1="735.1" y1="748" x2="739.5" y2="748" stroke="#8e0010" stroke-width="3.1" stroke-linecap="round"/>
<line x1="735.1" y1="777.3" x2="739.5" y2="777.3" stroke="#8e0010" stroke-width="3.1" stroke-linecap="round"/>
<rect x="734.55" y="761.88" width="5.5" height="5.5" fill="#8a0008" stroke="#000" stroke-width="1"/>
<text x="737.7" y="742" font-size="12" text-anchor="middle" fill="#000" stroke="#000">1.26</text>
<text transform="translate(192,13.3) scale(1,1.0)" font-size="17.8" text-anchor="start" fill="#1f2d5e" stroke="#1f2d5e">Women</text>
<text transform="translate(595.9,13.2) scale(1,1.0)" font-size="17.9" text-anchor="start" fill="#1f2d5e" stroke="#1f2d5e">Men</text>
</svg>
</body></html>
